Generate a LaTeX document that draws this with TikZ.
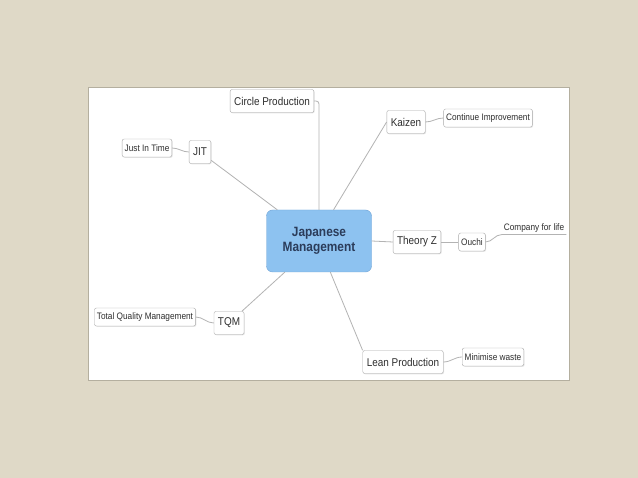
\documentclass[tikz,border=0pt]{standalone}
\usepackage{fontspec}
\setmainfont{Liberation Sans}[FakeStretch=0.88]
\usetikzlibrary{positioning,shadows}
\definecolor{paper}{HTML}{DFD9C7}
\definecolor{panelline}{HTML}{B4AF9F}
\definecolor{boxline}{HTML}{A9A9A9}
\definecolor{linkgray}{HTML}{B3B3B3}
\definecolor{mainfill}{HTML}{8DC2F0}
\definecolor{mainline}{HTML}{6FA3D6}
\definecolor{maintext}{HTML}{2B3C5A}
\definecolor{boxtext}{HTML}{2E2E2E}

\begin{document}
\begin{tikzpicture}[x=1pt,y=-1pt,topic/.style={draw=boxline, fill=white, rounded corners=2pt, text=boxtext, font=\fontsize{11.3}{12}\selectfont, inner sep=4pt, minimum height=23pt, drop shadow={opacity=0.2, shadow xshift=0.8pt, shadow yshift=-0.8pt}},leaf/.style={topic, font=\fontsize{9.4}{10}\selectfont, inner sep=2.5pt, minimum height=18pt},link/.style={draw=linkgray, line width=0.8pt}]
\fill[paper] (0,0) rectangle (638,478);
\draw[panelline, fill=white] (88,87) rectangle (569,380);
\node[draw=mainline, fill=mainfill, rounded corners=6pt, minimum width=105pt, minimum height=62pt, align=center, text=maintext, font=\bfseries\fontsize{13.5}{15.5}\selectfont] (main) at (319,241) {Japanese\\Management};
\node[topic] (cp) at (272,101) {Circle Production};
\node[topic] (kaizen) at (406,122) {Kaizen};
\node[topic] (jit) at (200,152) {JIT};
\node[topic] (tz) at (417,242) {Theory Z};
\node[topic] (tqm) at (229,323) {TQM};
\node[topic] (lean) at (403,362) {Lean Production};
\node[leaf] (jitleaf) at (147,148) {Just In Time};
\node[leaf] (ci) at (488,118) {Continue Improvement};
\node[leaf] (ouchi) at (472,242) {Ouchi};
\node[font=\fontsize{9.4}{10}\selectfont, text=boxtext, inner sep=2pt] (cfl) at (534,228) {Company for life};
\node[leaf] (tqmleaf) at (145,317) {Total Quality Management};
\node[leaf] (mw) at (493,357) {Minimise waste};
\draw[link, rounded corners=3pt] (cp.east) -| (main.north);
\draw[link] (main.65) -- (kaizen.west);
\draw[link] (main) -- (jit);
\draw[link] (main.east) -- (tz.west);
\draw[link] (main) -- (tqm);
\draw[link] (main.290) -- (lean.north west);
\draw[link] (jitleaf.east) to[out=0,in=180] (jit.west);
\draw[link] (kaizen.east) to[out=0,in=180] (ci.west);
\draw[link] (tz.east) -- (ouchi.west);
\draw[link] (ouchi.east) to[out=0,in=180] (cfl.south west) -- (cfl.south east);
\draw[link] (tqmleaf.east) to[out=0,in=180] (tqm.west);
\draw[link] (lean.east) to[out=0,in=180] (mw.west);
\end{tikzpicture}
\end{document}
